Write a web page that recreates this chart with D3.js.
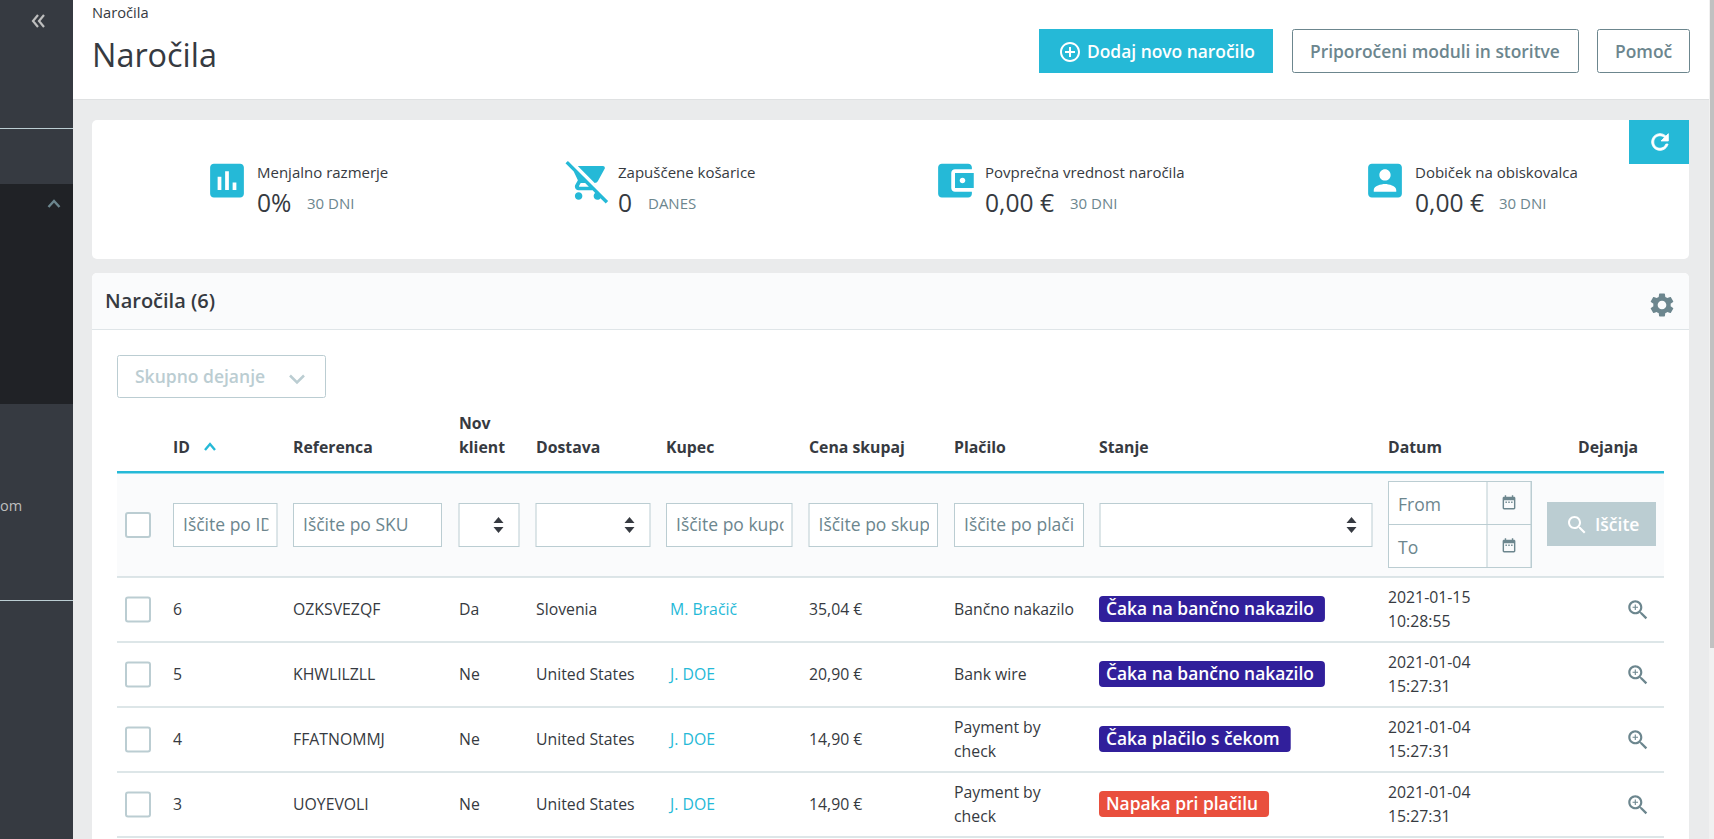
<!DOCTYPE html>
<html>
<head>
<meta charset="utf-8">
<title>Naročila</title>
<script src="https://cdn.jsdelivr.net/npm/d3@7"></script>
<style>
  html, body { margin: 0; padding: 0; overflow: hidden; background: #eaebec; }
  svg { display: block; font-family: "Open Sans", sans-serif; }
</style>
</head>
<body>
<div id="chart"></div>
<script>
// table data
const columnKeys = ['id', 'reference', 'newClient', 'delivery', 'customer', 'total', 'payment', 'state', 'date', 'actions'];
const columnLabels = ['ID', 'Referenca', ['Nov', 'klient'], 'Dostava', 'Kupec', 'Cena skupaj', 'Plačilo', 'Stanje', 'Datum', 'Dejanja'];
const orderIds = ['6', '5', '4', '3'];
const references = ['OZKSVEZQF', 'KHWLILZLL', 'FFATNOMMJ', 'UOYEVOLI'];
const newClients = ['Da', 'Ne', 'Ne', 'Ne'];
const deliveries = ['Slovenia', 'United States', 'United States', 'United States'];
const customers = ['M. Bračič', 'J. DOE', 'J. DOE', 'J. DOE'];
const totals = ['35,04 €', '20,90 €', '14,90 €', '14,90 €'];
const payments = [['Bančno nakazilo'], ['Bank wire'], ['Payment by', 'check'], ['Payment by', 'check']];
const states = ['Čaka na bančno nakazilo', 'Čaka na bančno nakazilo', 'Čaka plačilo s čekom', 'Napaka pri plačilu'];
const dates = [['2021-01-15', '10:28:55'], ['2021-01-04', '15:27:31'], ['2021-01-04', '15:27:31'], ['2021-01-04', '15:27:31']];

const kpiLabels = ['Menjalno razmerje', 'Zapuščene košarice', 'Povprečna vrednost naročila', 'Dobiček na obiskovalca'];
const kpiValues = ['0%', '0', '0,00 €', '0,00 €'];
const kpiPeriods = ['30 DNI', 'DANES', '30 DNI', '30 DNI'];

const filterPlaceholders = ['Iščite po ID', 'Iščite po SKU', null, null, 'Iščite po kupcu', 'Iščite po skupaj', 'Iščite po plačilu', null];

const width = 1714;
const height = 839;
const brand = '#25b9d7';
const ink = '#363a41';
const slate = '#6c868e';
const line = '#bbcdd2';

const icons = {
  add: 'M13 7h-2v4H7v2h4v4h2v-4h4v-2h-4V7zm-1-5C6.48 2 2 6.48 2 12s4.48 10 10 10 10-4.48 10-10S17.52 2 12 2zm0 18c-4.41 0-8-3.59-8-8s3.59-8 8-8 8 3.59 8 8-3.59 8-8 8z',
  chart: 'M19 3H5c-1.1 0-2 .9-2 2v14c0 1.1.9 2 2 2h14c1.1 0 2-.9 2-2V5c0-1.1-.9-2-2-2zM9 17H7v-7h2v7zm4 0h-2V7h2v10zm4 0h-2v-4h2v4z',
  cartOff: 'M22.73 22.73L2.77 2.77 2 2l-.73-.73L0 2.53l4.39 4.39 2.21 4.66-1.35 2.45c-.16.28-.25.61-.25.96 0 1.1.9 2 2 2h7.46l1.38 1.38c-.5.36-.83.95-.83 1.62 0 1.1.89 2 1.99 2 .67 0 1.26-.33 1.62-.84L21.47 24l1.26-1.27zM7.42 15c-.14 0-.25-.11-.25-.25l.03-.12.9-1.63h2.36l2 2H7.42zm8.13-2c.75 0 1.41-.41 1.75-1.03l3.58-6.49c.08-.14.12-.31.12-.48 0-.55-.45-1-1-1H6.54l9.01 9zM7 18c-1.1 0-1.99.9-1.99 2S5.9 22 7 22s2-.9 2-2-.9-2-2-2z',
  wallet: 'M21 18v1c0 1.1-.9 2-2 2H5c-1.11 0-2-.9-2-2V5c0-1.1.89-2 2-2h14c1.1 0 2 .9 2 2v1h-9c-1.11 0-2 .9-2 2v8c0 1.1.89 2 2 2h9zm-9-2h10V8H12v8zm4-2.5c-.83 0-1.5-.67-1.5-1.5s.67-1.5 1.5-1.5 1.5.67 1.5 1.5-.67 1.5-1.5 1.5z',
  person: 'M3 5v14c0 1.1.89 2 2 2h14c1.1 0 2-.9 2-2V5c0-1.1-.9-2-2-2H5c-1.11 0-2 .9-2 2zm12 4c0 1.66-1.34 3-3 3s-3-1.34-3-3 1.34-3 3-3 3 1.34 3 3zm-9 8c0-2 4-3.1 6-3.1s6 1.1 6 3.1v1H6v-1z',
  refresh: 'M17.65 6.35C16.2 4.9 14.21 4 12 4c-4.42 0-7.99 3.58-7.99 8s3.57 8 7.99 8c3.73 0 6.84-2.55 7.73-6h-2.08c-.82 2.33-3.04 4-5.65 4-3.31 0-6-2.69-6-6s2.69-6 6-6c1.66 0 3.14.69 4.22 1.78L13 11h7V4l-2.35 2.35z',
  settings: 'M19.14 12.94c.04-.3.06-.61.06-.94 0-.32-.02-.64-.07-.94l2.03-1.58c.18-.14.23-.41.12-.61l-1.92-3.32c-.12-.22-.37-.29-.59-.22l-2.39.96c-.5-.38-1.03-.7-1.62-.94l-.36-2.54c-.04-.24-.24-.41-.48-.41h-3.84c-.24 0-.43.17-.47.41l-.36 2.54c-.59.24-1.13.57-1.62.94l-2.39-.96c-.22-.08-.47 0-.59.22L2.74 8.87c-.12.21-.08.47.12.61l2.03 1.58c-.05.3-.09.63-.09.94s.02.64.07.94l-2.03 1.58c-.18.14-.23.41-.12.61l1.92 3.32c.12.22.37.29.59.22l2.39-.96c.5.38 1.03.7 1.62.94l.36 2.54c.05.24.24.41.48.41h3.84c.24 0 .44-.17.47-.41l.36-2.54c.59-.24 1.13-.56 1.62-.94l2.39.96c.22.08.47 0 .59-.22l1.92-3.32c.12-.22.07-.47-.12-.61l-2.01-1.58zM12 15.6c-1.98 0-3.6-1.62-3.6-3.6s1.62-3.6 3.6-3.6 3.6 1.62 3.6 3.6-1.62 3.6-3.6 3.6z',
  search: 'M15.5 14h-.79l-.28-.27C15.41 12.59 16 11.11 16 9.5 16 5.91 13.09 3 9.5 3S3 5.91 3 9.5 5.91 16 9.5 16c1.61 0 3.09-.59 4.23-1.57l.27.28v.79l5 4.99L20.49 19l-4.99-5zm-6 0C7.01 14 5 11.99 5 9.5S7.01 5 9.5 5 14 7.01 14 9.5 11.99 14 9.5 14z',
  zoomIn: 'M15.5 14h-.79l-.28-.27C15.41 12.59 16 11.11 16 9.5 16 5.91 13.09 3 9.5 3S3 5.91 3 9.5 5.91 16 9.5 16c1.61 0 3.09-.59 4.23-1.57l.27.28v.79l5 4.99L20.49 19l-4.99-5zm-6 0C7.01 14 5 11.99 5 9.5S7.01 5 9.5 5 14 7.01 14 9.5 11.99 14 9.5 14zM12 10h-2v2H9v-2H7V9h2V7h1v2h2v1z',
  calendar: 'M19 3h-1V1h-2v2H8V1H6v2H5c-1.11 0-1.99.9-1.99 2L3 19c0 1.1.89 2 2 2h14c1.1 0 2-.9 2-2V5c0-1.1-.9-2-2-2zm0 16H5V8h14v11zM9 10H7v2h2v-2zm4 0h-2v2h2v-2zm4 0h-2v2h2v-2z',
};

const svg = d3.select('#chart').append('svg')
  .attr('width', width)
  .attr('height', height);

const defs = svg.append('defs');

function box(x, y, w, h, fill, stroke, r) {
  return svg.append('rect')
    .attr('x', x)
    .attr('y', y)
    .attr('width', w)
    .attr('height', h)
    .attr('rx', r || 0)
    .attr('fill', fill)
    .attr('stroke', stroke || 'none');
}

function label(x, y, str, size, color, weight, anchor) {
  return svg.append('text')
    .attr('x', x)
    .attr('y', y)
    .attr('font-size', size)
    .attr('font-weight', weight || 400)
    .attr('text-anchor', anchor || 'start')
    .attr('fill', color)
    .text(str);
}

function icon(name, cx, cy, size, color) {
  const k = size / 24;
  return svg.append('path')
    .attr('d', icons[name])
    .attr('transform', `translate(${cx - size / 2},${cy - size / 2}) scale(${k})`)
    .attr('fill', color);
}

// negative h points the chevron up
function chevron(cx, cy, w, h, color, sw) {
  svg.append('path')
    .attr('d', d3.line()([[cx - w / 2, cy - h / 2], [cx, cy + h / 2], [cx + w / 2, cy - h / 2]]))
    .attr('fill', 'none')
    .attr('stroke', color)
    .attr('stroke-width', sw);
}

// page frame
box(0, 0, width, height, '#eaebec');
box(73, 0, width - 73, 99, '#fff');
svg.append('line').attr('x1', 73).attr('x2', width).attr('y1', 99.5).attr('y2', 99.5).attr('stroke', '#dfe1e2');

// left menu
box(0, 0, 73, height, '#363a41');
box(0, 184, 73, 220, '#202226');
box(0, 128, 73, 1, '#bbcdd2');
box(0, 600, 73, 1, '#bbcdd2');
label(0, 511, 'om', 14.5, '#bebebe');
[33, 39].forEach(x => {
  svg.append('path')
    .attr('d', d3.line()([[x + 5, 15], [x, 21], [x + 5, 27]]))
    .attr('fill', 'none')
    .attr('stroke', '#bebebe')
    .attr('stroke-width', 2.2);
});
chevron(54, 204, 11, -6, slate, 2.4);

// scrollbar
box(1709, 0, 5, height, '#f1f1f1');
box(1710, 0, 4, 648, '#c1c1c1');

// page head
label(92, 18, 'Naročila', 14.7, ink);
label(92, 67, 'Naročila', 32.4, ink);

box(1039, 29, 234, 44, brand);
icon('add', 1070, 52, 24, '#fff');
label(1087, 58, 'Dodaj novo naročilo', 17.4, '#fff', 600);
box(1292.5, 29.5, 286, 43, '#fff', slate, 2);
label(1310, 58, 'Priporočeni moduli in storitve', 17.4, slate, 600);
box(1597.5, 29.5, 92, 43, '#fff', slate, 2);
label(1615, 58, 'Pomoč', 17.4, slate, 600);

// kpi strip
const kpiIcons = ['chart', 'cartOff', 'wallet', 'person'];
const kpiIconX = d3.scaleOrdinal().domain(kpiLabels).range([227, 588, 955, 1385]);
const kpiIconY = d3.scaleOrdinal().domain(kpiLabels).range([180.5, 181, 180.5, 180.5]);
const kpiTextX = d3.scaleOrdinal().domain(kpiLabels).range([257, 618, 985, 1415]);
const kpiSubX = d3.scaleOrdinal().domain(kpiLabels).range([307, 648, 1070, 1499]);

box(92, 120, 1597, 139, '#fff', null, 5);
box(1629, 120, 60, 44, brand);
icon('refresh', 1660, 142, 25, '#fff').attr('stroke', '#fff').attr('stroke-width', 0.8);

kpiLabels.forEach((name, i) => {
  icon(kpiIcons[i], kpiIconX(name), kpiIconY(name), 45, brand);
  label(kpiTextX(name), 178, name, 15, ink);
  label(kpiTextX(name), 212, kpiValues[i], 24.6, ink);
  label(kpiSubX(name), 209, kpiPeriods[i], 15, slate);
});

// orders panel
box(92, 273, 1597, 580, '#fff', null, 5);
svg.append('path')
  .attr('d', 'M92 329V278a5 5 0 0 1 5-5H1684a5 5 0 0 1 5 5V329Z')
  .attr('fill', '#fafbfc');
box(92, 329, 1597, 1, '#dfe5e8');
label(105, 308, 'Naročila (6)', 20, ink, 600);
icon('settings', 1662, 305, 29, slate);

box(117.5, 355.5, 208, 42, '#fff', line, 2);
label(135, 383, 'Skupno dejanje', 17.5, line, 600);
chevron(297, 379, 14, 7, line, 2.5);

// columns
const colX = d3.scaleOrdinal()
  .domain(columnKeys)
  .range([173, 293, 459, 536, 666, 809, 954, 1099, 1388, 1578]);

columnKeys.forEach((key, i) => {
  const text = columnLabels[i];
  if (Array.isArray(text)) {
    label(colX(key), 429, text[0], 15.8, ink, 700);
    label(colX(key), 453, text[1], 15.8, ink, 700);
  } else {
    label(colX(key), 453, text, 15.8, ink, 700);
  }
});
chevron(210, 447, 10, -6, brand, 2.4);

// filter row
box(117, 473, 1547, 104, '#fafbfc');
box(117, 471, 1547, 2.5, brand);
box(117, 576.5, 1547, 1, line);

function checkbox(y) {
  box(126, y, 24, 24, '#fff', line, 2).attr('stroke-width', 2);
}
checkbox(513);

const filterX = [173, 293, 458.5, 535.5, 666, 808.5, 954, 1099.5];
const filterW = [103.5, 148, 60, 114, 125.5, 128.5, 129, 272];
filterPlaceholders.forEach((text, i) => {
  box(filterX[i] + 0.5, 503.5, filterW[i], 43, '#fff', line);
  if (text) {
    const id = `clip-filter-${i}`;
    defs.append('clipPath').attr('id', id).append('rect')
      .attr('x', filterX[i] + 10)
      .attr('y', 500)
      .attr('width', filterW[i] - 18)
      .attr('height', 50);
    label(filterX[i] + 10, 531, text, 17.5, slate).attr('clip-path', `url(#${id})`);
  } else {
    const ax = filterX[i] + filterW[i] - 20;
    svg.append('path').attr('d', `M${ax - 5} 523L${ax} 517L${ax + 5} 523Z`).attr('fill', ink);
    svg.append('path').attr('d', `M${ax - 5} 527L${ax} 533L${ax + 5} 527Z`).attr('fill', ink);
  }
});

[['From', 481], ['To', 524]].forEach(([text, y]) => {
  box(1388.5, y + 0.5, 143, 43, '#fff', line);
  box(1487, y + 0.5, 44, 43, '#fafbfc', line);
  label(1398, y + 30, text, 17.5, slate);
  icon('calendar', 1509, y + 22, 17, slate);
});

box(1547, 502, 109, 44, line);
icon('search', 1577, 525, 24, '#fff');
label(1595, 531, 'Iščite', 17.5, '#fff', 600);

// rows
const rowY = d3.scalePoint()
  .domain(orderIds)
  .range([609, 804]);
const stateColor = d3.scaleOrdinal()
  .domain(['Čaka na bančno nakazilo', 'Čaka plačilo s čekom', 'Napaka pri plačilu'])
  .range(['#311f9b', '#311f9b', '#e94f3d']);
const bodySize = 15.8;

orderIds.forEach((id, i) => {
  const y = rowY(id);
  box(117, y + 32.5, 1547, 1, line);
  checkbox(y - 11.5);
  label(colX('id'), y + 6, id, bodySize, ink);
  label(colX('reference'), y + 6, references[i], bodySize, ink);
  label(colX('newClient'), y + 6, newClients[i], bodySize, ink);
  label(colX('delivery'), y + 6, deliveries[i], bodySize, ink);
  label(colX('customer') + 4, y + 6, customers[i], bodySize, brand);
  label(colX('total'), y + 6, totals[i], bodySize, ink);

  const pay = payments[i];
  pay.forEach((text, j) => {
    label(colX('payment'), y + 6 + (j - (pay.length - 1) / 2) * 24, text, bodySize, ink);
  });

  const badge = box(colX('state'), y - 13, 10, 26, stateColor(states[i]), null, 4);
  const badgeText = label(colX('state') + 7, y + 6, states[i], 17.4, '#fff', 600);
  badge.attr('width', badgeText.node().getComputedTextLength() + 18);

  dates[i].forEach((text, j) => {
    label(colX('date'), y + 6 + (j - 0.5) * 24, text, bodySize, ink);
  });
  icon('zoomIn', 1638, y + 1, 26, slate);
});
</script>
</body>
</html>
